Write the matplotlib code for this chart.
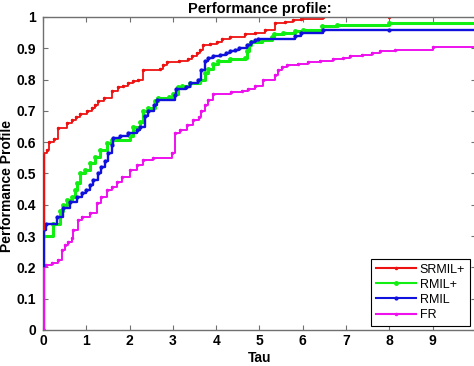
import matplotlib
matplotlib.use("Agg")
import matplotlib.pyplot as plt

# ---- data -------------------------------------------------------------
srmilp_tau = [0, 0, 0.1, 0.15, 0.25, 0.35, 0.55, 0.66, 0.76, 0.85, 1.02, 1.13, 1.19, 1.28,
              1.4, 1.6, 1.74, 1.85, 1.97, 2.09, 2.2, 2.31, 2.7, 2.78, 2.86, 3.13, 3.35,
              3.43, 3.55, 3.62, 3.7, 3.86, 4.01, 4.13, 4.32, 4.66, 4.9, 5.13, 5.36, 5.59,
              5.78, 5.97, 6.47, 8.0]
srmilp_p = [0, 0.565, 0.575, 0.60, 0.61, 0.645, 0.66, 0.67, 0.68, 0.69, 0.70, 0.71, 0.72,
            0.73, 0.74, 0.765, 0.775, 0.78, 0.79, 0.795, 0.80, 0.83, 0.835, 0.845, 0.855,
            0.86, 0.865, 0.875, 0.885, 0.895, 0.91, 0.915, 0.92, 0.93, 0.935, 0.945,
            0.95, 0.96, 0.98, 0.985, 0.99, 0.995, 1.0, 1.0]

rmilp_tau = [0, 0, 0.23, 0.39, 0.46, 0.55, 0.66, 0.74, 0.78, 0.85, 0.97, 1.09, 1.2, 1.32,
             1.47, 1.59, 2.0, 2.08, 2.24, 2.31, 2.43, 2.59, 2.66, 2.9, 3.01, 3.12, 3.2,
             3.39, 3.62, 3.74, 3.82, 3.93, 4.05, 4.32, 4.66, 4.72, 4.76, 4.8, 5.06, 5.3,
             5.34, 5.55, 5.82, 6.01, 6.44, 6.78, 7.98, 10.0]
rmilp_p = [0, 0.30, 0.34, 0.38, 0.40, 0.415, 0.426, 0.447, 0.47, 0.50, 0.51, 0.533, 0.554,
           0.575, 0.597, 0.607, 0.62, 0.65, 0.665, 0.70, 0.71, 0.73, 0.74, 0.745, 0.755,
           0.775, 0.78, 0.79, 0.80, 0.82, 0.835, 0.85, 0.86, 0.865, 0.87, 0.89, 0.91,
           0.92, 0.925, 0.935, 0.945, 0.95, 0.955, 0.96, 0.97, 0.975, 0.98, 0.98]

rmil_tau = [0, 0, 0.08, 0.32, 0.46, 0.62, 0.78, 0.89, 1.0, 1.09, 1.16, 1.27, 1.35, 1.43,
            1.5, 1.59, 1.62, 1.78, 1.96, 2.16, 2.24, 2.36, 2.43, 2.56, 2.63, 3.04, 3.08,
            3.31, 3.39, 3.58, 3.66, 3.74, 3.82, 3.93, 4.08, 4.23, 4.32, 4.43, 4.52, 4.7,
            4.8, 4.89, 4.97, 5.82, 5.97, 6.47, 8.0, 10.0]
rmil_p = [0, 0.32, 0.34, 0.36, 0.39, 0.41, 0.426, 0.437, 0.447, 0.463, 0.48, 0.50, 0.52,
          0.54, 0.565, 0.59, 0.613, 0.62, 0.63, 0.64, 0.65, 0.685, 0.70, 0.72, 0.735,
          0.75, 0.77, 0.775, 0.79, 0.80, 0.83, 0.86, 0.87, 0.875, 0.88, 0.885, 0.89,
          0.895, 0.90, 0.91, 0.92, 0.925, 0.93, 0.94, 0.95, 0.96, 0.96, 0.96]

fr_tau = [0, 0, 0.08, 0.2, 0.35, 0.43, 0.51, 0.58, 0.66, 0.7, 0.81, 0.89, 1.09, 1.24, 1.35,
          1.47, 1.59, 1.7, 1.82, 2.0, 2.16, 2.31, 2.54, 2.97, 3.05, 3.16, 3.32, 3.47, 3.6,
          3.66, 3.74, 3.82, 3.93, 4.35, 4.59, 4.74, 4.9, 5.09, 5.35, 5.43, 5.51, 5.63,
          5.9, 6.13, 6.4, 6.7, 6.93, 7.09, 7.36, 7.59, 7.78, 8.13, 9.0, 10.0]
fr_p = [0, 0.202, 0.208, 0.213, 0.223, 0.255, 0.27, 0.28, 0.293, 0.32, 0.35, 0.362, 0.373,
        0.405, 0.426, 0.447, 0.458, 0.474, 0.49, 0.51, 0.527, 0.543, 0.55, 0.565, 0.63,
        0.64, 0.655, 0.67, 0.68, 0.70, 0.72, 0.735, 0.755, 0.76, 0.765, 0.77, 0.78, 0.80,
        0.815, 0.83, 0.84, 0.845, 0.85, 0.855, 0.86, 0.865, 0.87, 0.875, 0.88, 0.885,
        0.89, 0.895, 0.905, 0.905]

labels = ["SRMIL+", "RMIL+", "RMIL", "FR"]
x_ticks = list(range(10))
y_ticks = [0, 0.1, 0.2, 0.3, 0.4, 0.5, 0.6, 0.7, 0.8, 0.9, 1]
y_ticklabels = ["0", "0.1", "0.2", "0.3", "0.4", "0.5", "0.6", "0.7", "0.8", "0.9", "1"]

# ---- plot ---------------------------------------------------------------
plt.rcParams["font.family"] = ["Liberation Sans", "DejaVu Sans"]

fig = plt.figure(figsize=(4.74, 3.66), dpi=100)
ax = fig.add_axes([0.0907, 0.0984, 0.9135, 0.8552])

series = [
    (srmilp_tau, srmilp_p, "#ee1111", 1.3, 3),
    (rmilp_tau, rmilp_p, "#11ee11", 2.2, 5),
    (rmil_tau, rmil_p, "#1111dd", 1.7, 4),
    (fr_tau, fr_p, "#ee11ee", 1.4, 3),
]
for (tau, p, color, lw, ms), label in zip(series, labels):
    ax.step(tau, p, where="post", color=color, lw=lw, marker=".", markersize=ms, label=label)

# vertical segments at tau = 0: later series drawn on top, as in the reference
ax.vlines(0, 0.32, 0.565, color="#ee1111", lw=2.5, zorder=3)
ax.vlines(0, 0.2, 0.32, color="#1111dd", lw=2.5, zorder=3)
ax.vlines(0, 0, 0.2, color="#ee11ee", lw=2.5, zorder=3)

ax.set_xlim(0, 10)
ax.set_ylim(0, 1)
ax.set_xticks(x_ticks)
ax.set_yticks(y_ticks)
ax.set_yticklabels(y_ticklabels)
for lbl in ax.get_xticklabels() + ax.get_yticklabels():
    lbl.set_fontweight("bold")
    lbl.set_fontsize(10)
ax.tick_params(direction="in", length=3.5, width=0.8, color="#707070",
               top=True, right=True, pad=5)
ax.tick_params(axis="x", pad=3)
for spine in ax.spines.values():
    spine.set_color("#707070")
    spine.set_linewidth(1.0)

ax.set_title("Performance profile:", fontweight="bold", fontsize=10.5, pad=3)
ax.set_xlabel("Tau", fontweight="bold", fontsize=10)
ax.xaxis.set_label_coords(0.5, -0.068)
ax.set_ylabel("Performance Profile", fontweight="bold", fontsize=10)
ax.yaxis.set_label_coords(-0.066, 0.46)

leg = ax.legend(loc="lower right", bbox_to_anchor=(0.986, 0.013), borderaxespad=0,
                fontsize=9, handlelength=3.2, labelspacing=0.25, fancybox=False,
                framealpha=1, edgecolor="black", borderpad=0.4, handletextpad=0.3)
leg.get_frame().set_linewidth(0.8)
for line in leg.get_lines():
    line.set_linewidth(1.5)

fig.savefig("out.png", dpi=100)
